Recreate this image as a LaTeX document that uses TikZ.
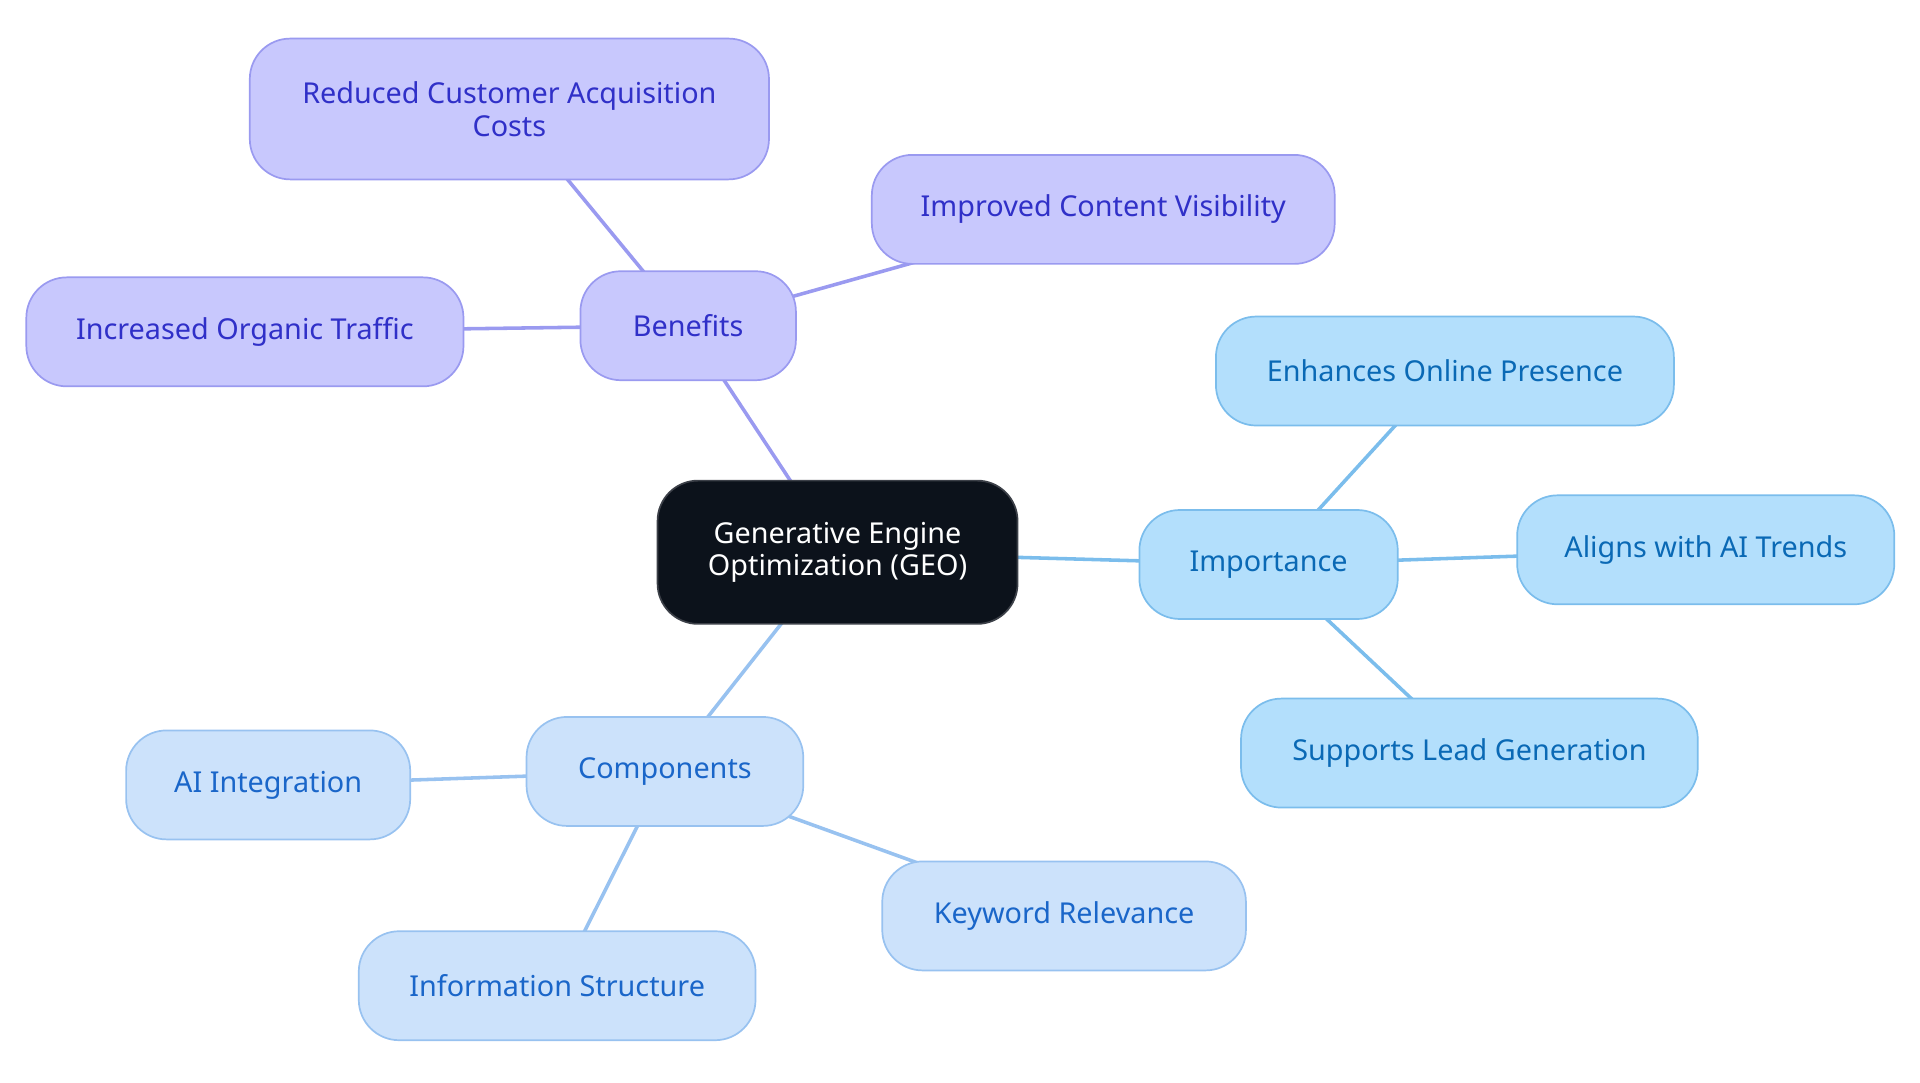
\documentclass[tikz,border=0pt]{standalone}
\usepackage{fontspec}
\setmainfont{Noto Sans}
\usetikzlibrary{backgrounds}
\definecolor{cfill}{HTML}{0C121B}
\definecolor{cdraw}{HTML}{3C4048}
\definecolor{bfill}{HTML}{C8C8FD}
\definecolor{bdraw}{HTML}{9A9AF0}
\definecolor{btext}{HTML}{3030C8}
\definecolor{ifill}{HTML}{B3DFFC}
\definecolor{idraw}{HTML}{7BBDEC}
\definecolor{itext}{HTML}{0A69B5}
\definecolor{kfill}{HTML}{CCE2FB}
\definecolor{kdraw}{HTML}{98C2F0}
\definecolor{ktext}{HTML}{1A66C9}
\tikzset{
  basebox/.style={rounded corners=33pt, line width=1.4pt, inner sep=0pt, align=center,
    font=\fontsize{23.5}{26.5}\selectfont, minimum height=89pt},
  rootbox/.style={basebox, fill=cfill, draw=cdraw, text=white, minimum height=117pt},
  benbox/.style={basebox, fill=bfill, draw=bdraw, text=btext},
  impbox/.style={basebox, fill=ifill, draw=idraw, text=itext},
  combox/.style={basebox, fill=kfill, draw=kdraw, text=ktext},
  benline/.style={draw=bdraw, line width=2.9pt},
  impline/.style={draw=idraw, line width=2.9pt},
  comline/.style={draw=kdraw, line width=2.9pt},
}
\begin{document}
\begin{tikzpicture}[x=1pt,y=-1pt]
\useasboundingbox (0,0) rectangle (1568,884.4);
\node[rootbox, minimum width=294pt] (geo) at (684,451) {Generative Engine\\Optimization (GEO)};

\node[benbox, minimum width=176pt] (ben) at (562,266) {Benefits};
\node[benbox, minimum width=424pt, minimum height=115pt] (red) at (416,89) {Reduced Customer Acquisition\\Costs};
\node[benbox, minimum width=378pt] (imp2) at (901,171) {Improved Content Visibility};
\node[benbox, minimum width=357pt] (inc) at (200,271) {Increased Organic Traffic};

\node[impbox, minimum width=211pt] (imp) at (1036,461) {Importance};
\node[impbox, minimum width=374pt] (enh) at (1180,303) {Enhances Online Presence};
\node[impbox, minimum width=308pt] (ali) at (1393,449) {Aligns with AI Trends};
\node[impbox, minimum width=373pt] (sup) at (1200,615) {Supports Lead Generation};

\node[combox, minimum width=226pt] (com) at (543,630) {Components};
\node[combox, minimum width=232pt] (ain) at (219,641) {AI Integration};
\node[combox, minimum width=297pt] (key) at (869,748) {Keyword Relevance};
\node[combox, minimum width=324pt] (inf) at (455,805) {Information Structure};

\begin{pgfonlayer}{background}
\draw[benline] (geo.center) -- (ben.center);
\draw[benline] (ben.center) -- (red.center);
\draw[benline] (ben.center) -- (imp2.center);
\draw[benline] (ben.center) -- (inc.center);
\draw[impline] (geo.center) -- (imp.center);
\draw[impline] (imp.center) -- (enh.center);
\draw[impline] (imp.center) -- (ali.center);
\draw[impline] (imp.center) -- (sup.center);
\draw[comline] (geo.center) -- (com.center);
\draw[comline] (com.center) -- (ain.center);
\draw[comline] (com.center) -- (key.center);
\draw[comline] (com.center) -- (inf.center);
\end{pgfonlayer}
\end{tikzpicture}
\end{document}
